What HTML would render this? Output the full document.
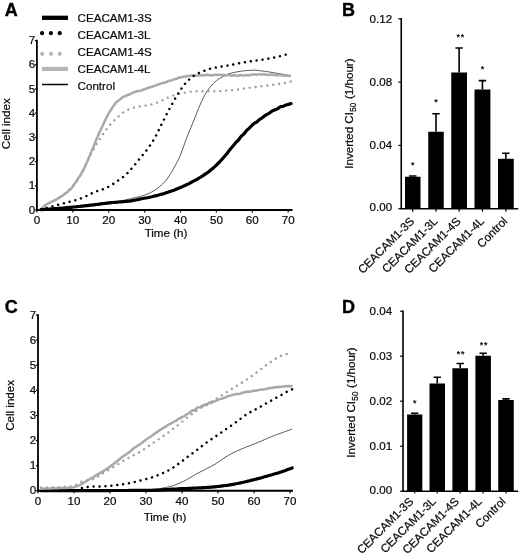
<!DOCTYPE html>
<html lang="en"><head><meta charset="utf-8"><title>Figure</title>
<style>html,body{margin:0;padding:0;background:#fff}svg{display:block}text{font-family:"Liberation Sans",Arial,Helvetica,sans-serif;fill:#0a0a0a;stroke:#0a0a0a;stroke-width:0.22px}.pl{font-size:18px;font-weight:bold;fill:#000;stroke:#000;stroke-width:0.35px}.st{fill:#000}</style>
</head><body>
<svg width="520" height="554" viewBox="0 0 520 554">
<rect width="520" height="554" fill="#fff"/>
<g stroke="#000" stroke-width="1.8" fill="none">
<path d="M36.9,39.7 V210 H292.5"/>
</g>
<g stroke="#000" stroke-width="1.2">
<line x1="34.80" y1="210.00" x2="36.90" y2="210.00"/>
<line x1="34.80" y1="185.80" x2="36.90" y2="185.80"/>
<line x1="34.80" y1="161.60" x2="36.90" y2="161.60"/>
<line x1="34.80" y1="137.40" x2="36.90" y2="137.40"/>
<line x1="34.80" y1="113.20" x2="36.90" y2="113.20"/>
<line x1="34.80" y1="89.00" x2="36.90" y2="89.00"/>
<line x1="34.80" y1="64.80" x2="36.90" y2="64.80"/>
<line x1="34.80" y1="40.60" x2="36.90" y2="40.60"/>
<line x1="36.90" y1="210.00" x2="36.90" y2="212.40"/>
<line x1="72.80" y1="210.00" x2="72.80" y2="212.40"/>
<line x1="108.70" y1="210.00" x2="108.70" y2="212.40"/>
<line x1="144.60" y1="210.00" x2="144.60" y2="212.40"/>
<line x1="180.50" y1="210.00" x2="180.50" y2="212.40"/>
<line x1="216.40" y1="210.00" x2="216.40" y2="212.40"/>
<line x1="252.30" y1="210.00" x2="252.30" y2="212.40"/>
<line x1="288.20" y1="210.00" x2="288.20" y2="212.40"/>
</g>
<g font-size="11.6" text-anchor="end">
<text x="35.10" y="213.60">0</text>
<text x="35.10" y="189.40">1</text>
<text x="35.10" y="165.20">2</text>
<text x="35.10" y="141.00">3</text>
<text x="35.10" y="116.80">4</text>
<text x="35.10" y="92.60">5</text>
<text x="35.10" y="68.40">6</text>
<text x="35.10" y="44.20">7</text>
</g>
<g font-size="11.6" text-anchor="middle">
<text x="36.90" y="223.70">0</text>
<text x="72.80" y="223.70">10</text>
<text x="108.70" y="223.70">20</text>
<text x="144.60" y="223.70">30</text>
<text x="180.50" y="223.70">40</text>
<text x="216.40" y="223.70">50</text>
<text x="252.30" y="223.70">60</text>
<text x="288.20" y="223.70">70</text>
<text x="166" y="237">Time (h)</text>
<text transform="translate(9.9,123.7) rotate(-90)">Cell index</text>
</g>
<text class="pl" x="4.7" y="15.9">A</text>
<path d="M41.0,209.7 L42.5,209.6 L44.0,209.5 L45.5,209.4 L47.0,209.3 L48.5,209.2 L50.0,209.1 L51.5,208.9 L53.0,208.8 L54.5,208.7 L56.0,208.6 L57.5,208.5 L59.0,208.3 L60.5,208.2 L62.0,208.1 L63.5,208.0 L65.0,207.8 L66.5,207.7 L68.0,207.6 L69.5,207.4 L71.0,207.3 L72.5,207.1 L74.0,207.0 L75.5,206.8 L77.0,206.7 L78.5,206.5 L80.0,206.4 L81.5,206.2 L83.0,206.1 L84.5,205.9 L86.0,205.7 L87.5,205.6 L89.0,205.4 L90.5,205.2 L92.0,205.1 L93.5,204.9 L95.0,204.7 L96.5,204.5 L98.0,204.3 L99.5,204.1 L101.0,203.9 L102.5,203.7 L104.0,203.5 L105.5,203.3 L107.0,203.1 L108.5,202.9 L110.0,202.7 L111.5,202.5 L113.0,202.2 L114.5,202.0 L116.0,201.8 L117.5,201.5 L119.0,201.2 L120.5,201.0 L122.0,200.7 L123.5,200.3 L125.0,200.0 L126.5,199.7 L128.0,199.4 L129.5,199.0 L131.0,198.7 L132.5,198.3 L134.0,197.9 L135.5,197.5 L137.0,197.2 L138.5,196.9 L140.0,196.6 L141.5,196.1 L143.0,195.7 L144.5,195.1 L146.0,194.6 L147.5,194.0 L149.0,193.4 L150.5,192.7 L152.0,191.9 L153.5,191.0 L155.0,190.0 L156.5,189.0 L158.0,187.9 L159.5,186.7 L161.0,185.5 L162.5,184.1 L164.0,182.6 L165.5,180.9 L167.0,179.1 L168.5,177.1 L170.0,174.8 L171.5,172.3 L173.0,169.7 L174.5,167.0 L176.0,164.2 L177.5,161.3 L179.0,158.2 L180.5,154.8 L182.0,150.9 L183.5,146.7 L185.0,142.4 L186.5,138.3 L188.0,134.5 L189.5,130.9 L191.0,127.3 L192.5,123.6 L194.0,120.0 L195.5,116.2 L197.0,112.3 L198.5,108.6 L200.0,105.0 L201.5,101.6 L203.0,98.4 L204.5,95.5 L206.0,93.0 L207.5,90.7 L209.0,88.6 L210.5,86.6 L212.0,84.9 L213.5,83.3 L215.0,81.9 L216.5,80.6 L218.0,79.5 L219.5,78.5 L221.0,77.6 L222.5,76.8 L224.0,76.0 L225.5,75.3 L227.0,74.6 L228.5,74.0 L230.0,73.6 L231.5,73.1 L233.0,72.7 L234.5,72.4 L236.0,72.1 L237.5,71.8 L239.0,71.5 L240.5,71.3 L242.0,71.1 L243.5,70.9 L245.0,70.7 L246.5,70.6 L248.0,70.5 L249.5,70.4 L251.0,70.3 L252.5,70.2 L254.0,70.2 L255.5,70.2 L257.0,70.3 L258.5,70.5 L260.0,70.7 L261.5,70.9 L263.0,71.1 L264.5,71.3 L266.0,71.5 L267.5,71.7 L269.0,72.0 L270.5,72.2 L272.0,72.4 L273.5,72.7 L275.0,73.0 L276.5,73.2 L278.0,73.5 L279.5,73.7 L281.0,74.0 L282.5,74.2 L284.0,74.5 L285.5,74.7 L287.0,75.0 L288.5,75.3 L290.0,75.5 L291.0,75.7" fill="none" stroke="#444" stroke-width="0.9"/>
<path d="M40.5,209.6 L42.0,208.3 L43.5,206.7 L45.0,205.3 L46.5,204.4 L48.0,203.6 L49.5,202.9 L51.0,202.2 L52.5,201.5 L54.0,200.7 L55.5,200.0 L57.0,199.2 L58.5,198.4 L60.0,197.5 L61.5,196.5 L63.0,195.5 L64.5,194.5 L66.0,193.3 L67.5,192.1 L69.0,190.8 L70.5,189.3 L72.0,187.6 L73.5,185.7 L75.0,183.6 L76.5,181.5 L78.0,179.3 L79.5,176.9 L81.0,174.4 L82.5,171.8 L84.0,169.0 L85.5,165.9 L87.0,162.5 L88.5,159.1 L90.0,156.0 L91.5,153.1 L93.0,150.4 L94.5,147.8 L96.0,145.2 L97.5,142.7 L99.0,140.2 L100.5,137.8 L102.0,135.5 L103.5,133.4 L105.0,131.3 L106.5,129.2 L108.0,127.3 L109.5,125.5 L111.0,123.8 L112.5,122.2 L114.0,120.7 L115.5,119.2 L117.0,117.9 L118.5,116.5 L120.0,115.1 L121.5,113.8 L123.0,112.6 L124.5,111.5 L126.0,110.6 L127.5,109.9 L129.0,109.1 L130.5,108.5 L132.0,108.0 L133.5,107.7 L135.0,107.3 L136.5,107.1 L138.0,106.8 L139.5,106.6 L141.0,106.3 L142.5,106.1 L144.0,105.9 L145.5,105.6 L147.0,105.4 L148.5,105.1 L150.0,104.8 L151.5,104.4 L153.0,104.0 L154.5,103.5 L156.0,103.0 L157.5,102.5 L159.0,101.9 L160.5,101.2 L162.0,100.5 L163.5,99.7 L165.0,99.0 L166.5,98.3 L168.0,97.6 L169.5,97.0 L171.0,96.4 L172.5,95.9 L174.0,95.3 L175.5,94.8 L177.0,94.4 L178.5,93.9 L180.0,93.5 L181.5,93.2 L183.0,92.9 L184.5,92.7 L186.0,92.5 L187.5,92.2 L189.0,92.0 L190.5,91.8 L192.0,91.7 L193.5,91.5 L195.0,91.4 L196.5,91.3 L198.0,91.3 L199.5,91.3 L201.0,91.3 L202.5,91.3 L204.0,91.3 L205.5,91.3 L207.0,91.3 L208.5,91.3 L210.0,91.3 L211.5,91.3 L213.0,91.3 L214.5,91.3 L216.0,91.3 L217.5,91.3 L219.0,91.2 L220.5,91.1 L222.0,91.0 L223.5,90.9 L225.0,90.8 L226.5,90.7 L228.0,90.6 L229.5,90.4 L231.0,90.3 L232.5,90.2 L234.0,90.0 L235.5,89.8 L237.0,89.6 L238.5,89.4 L240.0,89.1 L241.5,88.9 L243.0,88.6 L244.5,88.4 L246.0,88.2 L247.5,88.0 L249.0,87.8 L250.5,87.6 L252.0,87.4 L253.5,87.2 L255.0,87.1 L256.5,86.9 L258.0,86.7 L259.5,86.5 L261.0,86.3 L262.5,86.1 L264.0,85.9 L265.5,85.8 L267.0,85.6 L268.5,85.4 L270.0,85.2 L271.5,85.0 L273.0,84.8 L274.5,84.6 L276.0,84.4 L277.5,84.2 L279.0,84.0 L280.5,83.7 L282.0,83.4 L283.5,83.2 L285.0,82.9 L286.5,82.5 L288.0,82.2 L289.5,81.9 L291.0,81.5" fill="none" stroke="#a2a2a2" stroke-width="2.45" stroke-linecap="round" stroke-dasharray="0.01 5.92"/>
<path d="M40.5,209.6 L42.0,208.3 L43.5,206.7 L45.0,205.3 L46.5,204.3 L48.0,203.5 L49.5,202.8 L51.0,202.1 L52.5,201.3 L54.0,200.5 L55.5,199.8 L57.0,199.0 L58.5,198.2 L60.0,197.0 L61.5,196.2 L63.0,195.6 L64.5,194.0 L66.0,193.0 L67.5,192.1 L69.0,190.1 L70.5,189.1 L72.0,187.6 L73.5,185.1 L75.0,183.2 L76.5,181.3 L78.0,178.5 L79.5,176.4 L81.0,174.1 L82.5,171.4 L84.0,168.5 L85.5,165.2 L87.0,162.0 L88.5,158.4 L90.0,155.0 L91.5,151.3 L93.0,147.9 L94.5,144.2 L96.0,140.3 L97.5,137.0 L99.0,133.4 L100.5,130.3 L102.0,127.0 L103.5,124.0 L105.0,120.6 L106.5,117.5 L108.0,114.8 L109.5,112.0 L111.0,109.8 L112.5,107.0 L114.0,105.3 L115.5,103.2 L117.0,101.7 L118.5,100.6 L120.0,99.4 L121.5,98.3 L123.0,97.0 L124.5,96.2 L126.0,95.9 L127.5,95.0 L129.0,94.5 L130.5,94.0 L132.0,93.2 L133.5,92.2 L135.0,91.9 L136.5,91.6 L138.0,90.9 L139.5,90.9 L141.0,90.5 L142.5,90.0 L144.0,89.3 L145.5,89.1 L147.0,88.1 L148.5,87.7 L150.0,87.3 L151.5,87.0 L153.0,86.3 L154.5,85.6 L156.0,85.2 L157.5,84.7 L159.0,84.2 L160.5,83.6 L162.0,83.3 L163.5,82.8 L165.0,82.5 L166.5,82.0 L168.0,81.3 L169.5,80.8 L171.0,80.5 L172.5,80.1 L174.0,79.4 L175.5,79.0 L177.0,78.6 L178.5,77.6 L180.0,77.8 L181.5,77.0 L183.0,76.8 L184.5,76.7 L186.0,76.5 L187.5,75.9 L189.0,76.1 L190.5,75.6 L192.0,75.6 L193.5,75.9 L195.0,75.5 L196.5,75.5 L198.0,75.6 L199.5,75.6 L201.0,75.5 L202.5,74.9 L204.0,75.2 L205.5,75.2 L207.0,74.8 L208.5,75.1 L210.0,75.2 L211.5,75.3 L213.0,75.3 L214.5,74.8 L216.0,74.8 L217.5,75.1 L219.0,74.7 L220.5,74.8 L222.0,75.1 L223.5,74.9 L225.0,75.3 L226.5,75.4 L228.0,74.9 L229.5,75.3 L231.0,75.5 L232.5,75.7 L234.0,75.2 L235.5,75.2 L237.0,75.7 L238.5,75.7 L240.0,75.1 L241.5,75.3 L243.0,75.4 L244.5,75.4 L246.0,74.9 L247.5,75.2 L249.0,75.2 L250.5,74.9 L252.0,74.6 L253.5,74.4 L255.0,74.5 L256.5,74.9 L258.0,74.3 L259.5,74.3 L261.0,74.5 L262.5,74.3 L264.0,74.4 L265.5,74.3 L267.0,74.7 L268.5,74.9 L270.0,74.8 L271.5,74.6 L273.0,74.8 L274.5,75.0 L276.0,75.3 L277.5,75.4 L279.0,75.0 L280.5,74.9 L282.0,75.5 L283.5,75.6 L285.0,75.4 L286.5,75.7 L288.0,75.8 L289.5,75.7 L291.0,76.0" fill="none" stroke="#a9a9a9" stroke-width="2.5" stroke-linejoin="round"/>
<path d="M41.0,209.6 L42.5,209.2 L44.0,208.7 L45.5,208.3 L47.0,207.8 L48.5,207.4 L50.0,207.0 L51.5,206.6 L53.0,206.2 L54.5,205.7 L56.0,205.3 L57.5,204.9 L59.0,204.5 L60.5,204.1 L62.0,203.8 L63.5,203.4 L65.0,203.0 L66.5,202.6 L68.0,202.2 L69.5,201.8 L71.0,201.4 L72.5,201.0 L74.0,200.6 L75.5,200.2 L77.0,199.8 L78.5,199.3 L80.0,198.8 L81.5,198.2 L83.0,197.6 L84.5,196.9 L86.0,196.2 L87.5,195.5 L89.0,194.7 L90.5,194.0 L92.0,193.2 L93.5,192.5 L95.0,191.9 L96.5,191.3 L98.0,190.8 L99.5,190.3 L101.0,189.9 L102.5,189.4 L104.0,188.9 L105.5,188.3 L107.0,187.5 L108.5,186.8 L110.0,185.9 L111.5,185.0 L113.0,184.1 L114.5,183.0 L116.0,181.9 L117.5,180.9 L119.0,179.9 L120.5,178.9 L122.0,177.9 L123.5,176.7 L125.0,175.5 L126.5,174.1 L128.0,172.6 L129.5,170.9 L131.0,169.2 L132.5,167.5 L134.0,165.7 L135.5,163.9 L137.0,162.0 L138.5,160.1 L140.0,158.2 L141.5,156.4 L143.0,154.6 L144.5,152.8 L146.0,151.0 L147.5,149.0 L149.0,146.9 L150.5,144.7 L152.0,142.5 L153.5,140.0 L155.0,137.5 L156.5,134.7 L158.0,131.7 L159.5,128.5 L161.0,125.4 L162.5,122.5 L164.0,119.5 L165.5,116.5 L167.0,113.5 L168.5,110.6 L170.0,107.9 L171.5,105.2 L173.0,102.5 L174.5,99.7 L176.0,97.1 L177.5,94.6 L179.0,92.2 L180.5,89.9 L182.0,87.7 L183.5,85.6 L185.0,83.8 L186.5,82.2 L188.0,80.7 L189.5,79.2 L191.0,77.8 L192.5,76.6 L194.0,75.6 L195.5,74.7 L197.0,73.9 L198.5,73.2 L200.0,72.6 L201.5,71.9 L203.0,71.3 L204.5,70.7 L206.0,70.1 L207.5,69.5 L209.0,69.0 L210.5,68.6 L212.0,68.3 L213.5,68.0 L215.0,67.7 L216.5,67.4 L218.0,67.1 L219.5,66.9 L221.0,66.7 L222.5,66.4 L224.0,66.2 L225.5,65.9 L227.0,65.7 L228.5,65.4 L230.0,65.1 L231.5,64.8 L233.0,64.5 L234.5,64.2 L236.0,63.9 L237.5,63.6 L239.0,63.3 L240.5,63.0 L242.0,62.8 L243.5,62.5 L245.0,62.2 L246.5,62.0 L248.0,61.7 L249.5,61.5 L251.0,61.3 L252.5,61.0 L254.0,60.8 L255.5,60.6 L257.0,60.5 L258.5,60.3 L260.0,60.0 L261.5,59.8 L263.0,59.6 L264.5,59.3 L266.0,59.1 L267.5,58.8 L269.0,58.5 L270.5,58.3 L272.0,58.0 L273.5,57.7 L275.0,57.3 L276.5,57.0 L278.0,56.7 L279.5,56.3 L281.0,56.0 L282.5,55.6 L284.0,55.2 L285.5,54.7 L287.0,54.3 L288.5,53.8 L290.0,53.3 L291.0,53.0" fill="none" stroke="#000" stroke-width="2.5" stroke-linecap="round" stroke-dasharray="0.01 5.92"/>
<path d="M41.0,209.7 L42.5,209.6 L44.0,209.5 L45.5,209.4 L47.0,209.3 L48.5,209.2 L50.0,209.1 L51.5,208.9 L53.0,208.8 L54.5,208.7 L56.0,208.6 L57.5,208.5 L59.0,208.3 L60.5,208.2 L62.0,208.1 L63.5,208.0 L65.0,207.8 L66.5,207.7 L68.0,207.6 L69.5,207.4 L71.0,207.3 L72.5,207.1 L74.0,207.0 L75.5,206.8 L77.0,206.7 L78.5,206.5 L80.0,206.4 L81.5,206.2 L83.0,206.1 L84.5,205.9 L86.0,205.7 L87.5,205.6 L89.0,205.4 L90.5,205.2 L92.0,205.1 L93.5,204.9 L95.0,204.7 L96.5,204.5 L98.0,204.3 L99.5,204.1 L101.0,203.9 L102.5,203.7 L104.0,203.5 L105.5,203.3 L107.0,203.1 L108.5,202.9 L110.0,202.8 L111.5,202.6 L113.0,202.5 L114.5,202.4 L116.0,202.3 L117.5,202.1 L119.0,202.0 L120.5,201.9 L122.0,201.8 L123.5,201.6 L125.0,201.5 L126.5,201.4 L128.0,201.2 L129.5,201.1 L131.0,200.9 L132.5,200.6 L134.0,200.3 L135.5,200.0 L137.0,199.7 L138.5,199.4 L140.0,199.1 L141.5,198.8 L143.0,198.5 L144.5,198.2 L146.0,198.0 L147.5,197.7 L149.0,197.4 L150.5,197.0 L152.0,196.7 L153.5,196.3 L155.0,195.9 L156.5,195.6 L158.0,195.2 L159.5,194.8 L161.0,194.4 L162.5,194.0 L164.0,193.6 L165.5,193.1 L167.0,192.6 L168.5,192.1 L170.0,191.5 L171.5,191.0 L173.0,190.4 L174.5,189.9 L176.0,189.3 L177.5,188.7 L179.0,188.1 L180.5,187.4 L182.0,186.8 L183.5,186.1 L185.0,185.5 L186.5,184.8 L188.0,184.1 L189.5,183.3 L191.0,182.5 L192.5,181.7 L194.0,180.9 L195.5,180.1 L197.0,179.3 L198.5,178.4 L200.0,177.5 L201.5,176.6 L203.0,175.7 L204.5,174.7 L206.0,173.7 L207.5,172.7 L209.0,171.5 L210.5,170.3 L212.0,169.1 L213.5,167.8 L215.0,166.4 L216.5,165.0 L218.0,163.5 L219.5,162.0 L221.0,160.4 L222.5,158.7 L224.0,157.0 L225.5,155.2 L227.0,153.4 L228.5,151.5 L230.0,149.6 L231.5,147.8 L233.0,146.0 L234.5,144.3 L236.0,142.3 L237.5,141.1 L239.0,139.4 L240.5,137.2 L242.0,135.7 L243.5,134.3 L245.0,132.7 L246.5,130.5 L248.0,129.3 L249.5,127.9 L251.0,126.3 L252.5,124.8 L254.0,123.5 L255.5,122.6 L257.0,122.0 L258.5,120.3 L260.0,119.2 L261.5,118.4 L263.0,117.1 L264.5,116.0 L266.0,114.9 L267.5,114.2 L269.0,113.4 L270.5,112.2 L272.0,111.1 L273.5,110.4 L275.0,109.8 L276.5,109.3 L278.0,108.6 L279.5,107.3 L281.0,106.5 L282.5,106.5 L284.0,106.0 L285.5,105.1 L287.0,104.8 L288.5,104.4 L290.0,103.8 L291.0,103.7" fill="none" stroke="#000" stroke-width="3.2" stroke-linejoin="round" stroke-linecap="round"/>
<g stroke="#000" stroke-width="1.8" fill="none">
<path d="M38,314.2 V490.75 H293"/>
</g>
<g stroke="#000" stroke-width="1.2">
<line x1="35.90" y1="490.75" x2="38.00" y2="490.75"/>
<line x1="35.90" y1="465.65" x2="38.00" y2="465.65"/>
<line x1="35.90" y1="440.55" x2="38.00" y2="440.55"/>
<line x1="35.90" y1="415.45" x2="38.00" y2="415.45"/>
<line x1="35.90" y1="390.35" x2="38.00" y2="390.35"/>
<line x1="35.90" y1="365.25" x2="38.00" y2="365.25"/>
<line x1="35.90" y1="340.15" x2="38.00" y2="340.15"/>
<line x1="35.90" y1="315.05" x2="38.00" y2="315.05"/>
<line x1="38.00" y1="490.75" x2="38.00" y2="493.15"/>
<line x1="74.00" y1="490.75" x2="74.00" y2="493.15"/>
<line x1="110.00" y1="490.75" x2="110.00" y2="493.15"/>
<line x1="146.00" y1="490.75" x2="146.00" y2="493.15"/>
<line x1="182.00" y1="490.75" x2="182.00" y2="493.15"/>
<line x1="218.00" y1="490.75" x2="218.00" y2="493.15"/>
<line x1="254.00" y1="490.75" x2="254.00" y2="493.15"/>
<line x1="290.00" y1="490.75" x2="290.00" y2="493.15"/>
</g>
<g font-size="11.6" text-anchor="end">
<text x="36.20" y="494.35">0</text>
<text x="36.20" y="469.25">1</text>
<text x="36.20" y="444.15">2</text>
<text x="36.20" y="419.05">3</text>
<text x="36.20" y="393.95">4</text>
<text x="36.20" y="368.85">5</text>
<text x="36.20" y="343.75">6</text>
<text x="36.20" y="318.65">7</text>
</g>
<g font-size="11.6" text-anchor="middle">
<text x="38.00" y="505.40">0</text>
<text x="74.00" y="505.40">10</text>
<text x="110.00" y="505.40">20</text>
<text x="146.00" y="505.40">30</text>
<text x="182.00" y="505.40">40</text>
<text x="218.00" y="505.40">50</text>
<text x="254.00" y="505.40">60</text>
<text x="290.00" y="505.40">70</text>
<text x="165" y="520.5">Time (h)</text>
<text transform="translate(13.7,405.4) rotate(-90)">Cell index</text>
</g>
<text class="pl" x="4.75" y="313.3">C</text>
<path d="M41.0,490.6 L42.5,490.6 L44.0,490.6 L45.5,490.6 L47.0,490.6 L48.5,490.6 L50.0,490.6 L51.5,490.6 L53.0,490.6 L54.5,490.6 L56.0,490.6 L57.5,490.6 L59.0,490.6 L60.5,490.6 L62.0,490.6 L63.5,490.6 L65.0,490.6 L66.5,490.6 L68.0,490.6 L69.5,490.6 L71.0,490.6 L72.5,490.6 L74.0,490.6 L75.5,490.6 L77.0,490.6 L78.5,490.6 L80.0,490.6 L81.5,490.6 L83.0,490.6 L84.5,490.6 L86.0,490.6 L87.5,490.6 L89.0,490.6 L90.5,490.6 L92.0,490.6 L93.5,490.6 L95.0,490.6 L96.5,490.6 L98.0,490.6 L99.5,490.6 L101.0,490.6 L102.5,490.6 L104.0,490.6 L105.5,490.6 L107.0,490.6 L108.5,490.6 L110.0,490.6 L111.5,490.6 L113.0,490.6 L114.5,490.6 L116.0,490.6 L117.5,490.6 L119.0,490.6 L120.5,490.6 L122.0,490.6 L123.5,490.6 L125.0,490.6 L126.5,490.6 L128.0,490.6 L129.5,490.6 L131.0,490.6 L132.5,490.6 L134.0,490.6 L135.5,490.6 L137.0,490.6 L138.5,490.5 L140.0,490.5 L141.5,490.5 L143.0,490.5 L144.5,490.4 L146.0,490.4 L147.5,490.4 L149.0,490.3 L150.5,490.3 L152.0,490.1 L153.5,489.9 L155.0,489.6 L156.5,489.3 L158.0,488.9 L159.5,488.6 L161.0,488.4 L162.5,488.1 L164.0,487.8 L165.5,487.5 L167.0,487.2 L168.5,486.9 L170.0,486.5 L171.5,486.2 L173.0,485.7 L174.5,485.2 L176.0,484.6 L177.5,484.0 L179.0,483.4 L180.5,482.7 L182.0,482.0 L183.5,481.3 L185.0,480.5 L186.5,479.7 L188.0,478.9 L189.5,478.0 L191.0,477.1 L192.5,476.2 L194.0,475.3 L195.5,474.5 L197.0,473.6 L198.5,472.8 L200.0,472.0 L201.5,471.3 L203.0,470.5 L204.5,469.8 L206.0,469.0 L207.5,468.2 L209.0,467.5 L210.5,466.7 L212.0,465.9 L213.5,465.0 L215.0,464.2 L216.5,463.2 L218.0,462.2 L219.5,461.2 L221.0,460.2 L222.5,459.2 L224.0,458.2 L225.5,457.2 L227.0,456.2 L228.5,455.3 L230.0,454.4 L231.5,453.6 L233.0,452.8 L234.5,452.1 L236.0,451.4 L237.5,450.7 L239.0,450.1 L240.5,449.4 L242.0,448.8 L243.5,448.2 L245.0,447.5 L246.5,446.9 L248.0,446.3 L249.5,445.8 L251.0,445.2 L252.5,444.6 L254.0,444.0 L255.5,443.4 L257.0,442.8 L258.5,442.2 L260.0,441.6 L261.5,441.0 L263.0,440.3 L264.5,439.6 L266.0,439.0 L267.5,438.3 L269.0,437.7 L270.5,437.1 L272.0,436.4 L273.5,435.8 L275.0,435.2 L276.5,434.7 L278.0,434.1 L279.5,433.6 L281.0,433.1 L282.5,432.6 L284.0,432.0 L285.5,431.5 L287.0,430.9 L288.5,430.4 L290.0,429.8 L291.5,429.3 L292.2,429.0" fill="none" stroke="#444" stroke-width="0.9"/>
<path d="M41.0,490.7 L42.5,490.7 L44.0,490.7 L45.5,490.7 L47.0,490.7 L48.5,490.7 L50.0,490.7 L51.5,490.7 L53.0,490.7 L54.5,490.7 L56.0,490.7 L57.5,490.7 L59.0,490.7 L60.5,490.7 L62.0,490.7 L63.5,490.7 L65.0,490.7 L66.5,490.7 L68.0,490.7 L69.5,490.7 L71.0,490.7 L72.5,490.7 L74.0,490.7 L75.5,490.7 L77.0,490.7 L78.5,490.7 L80.0,490.7 L81.5,490.7 L83.0,490.6 L84.5,490.6 L86.0,490.6 L87.5,490.6 L89.0,490.6 L90.5,490.6 L92.0,490.6 L93.5,490.6 L95.0,490.6 L96.5,490.6 L98.0,490.6 L99.5,490.6 L101.0,490.6 L102.5,490.6 L104.0,490.6 L105.5,490.6 L107.0,490.6 L108.5,490.6 L110.0,490.6 L111.5,490.5 L113.0,490.5 L114.5,490.5 L116.0,490.5 L117.5,490.5 L119.0,490.5 L120.5,490.5 L122.0,490.5 L123.5,490.5 L125.0,490.5 L126.5,490.5 L128.0,490.5 L129.5,490.4 L131.0,490.4 L132.5,490.4 L134.0,490.4 L135.5,490.4 L137.0,490.4 L138.5,490.4 L140.0,490.4 L141.5,490.4 L143.0,490.4 L144.5,490.3 L146.0,490.3 L147.5,490.3 L149.0,490.3 L150.5,490.3 L152.0,490.3 L153.5,490.2 L155.0,490.2 L156.5,490.1 L158.0,490.1 L159.5,490.0 L161.0,489.9 L162.5,489.8 L164.0,489.7 L165.5,489.6 L167.0,489.5 L168.5,489.4 L170.0,489.3 L171.5,489.2 L173.0,489.1 L174.5,489.0 L176.0,489.0 L177.5,488.9 L179.0,488.8 L180.5,488.7 L182.0,488.7 L183.5,488.6 L185.0,488.6 L186.5,488.5 L188.0,488.4 L189.5,488.4 L191.0,488.3 L192.5,488.2 L194.0,488.2 L195.5,488.1 L197.0,488.0 L198.5,487.9 L200.0,487.9 L201.5,487.8 L203.0,487.7 L204.5,487.6 L206.0,487.5 L207.5,487.4 L209.0,487.3 L210.5,487.2 L212.0,487.1 L213.5,486.9 L215.0,486.8 L216.5,486.6 L218.0,486.5 L219.5,486.3 L221.0,486.1 L222.5,485.9 L224.0,485.7 L225.5,485.5 L227.0,485.3 L228.5,485.1 L230.0,484.8 L231.5,484.6 L233.0,484.4 L234.5,484.1 L236.0,483.8 L237.5,483.5 L239.0,483.2 L240.5,482.9 L242.0,482.5 L243.5,482.2 L245.0,481.8 L246.5,481.5 L248.0,481.1 L249.5,480.8 L251.0,480.4 L252.5,480.0 L254.0,479.6 L255.5,479.3 L257.0,478.9 L258.5,478.5 L260.0,478.1 L261.5,477.7 L263.0,477.2 L264.5,476.8 L266.0,476.4 L267.5,476.0 L269.0,475.5 L270.5,475.1 L272.0,474.7 L273.5,474.2 L275.0,473.8 L276.5,473.4 L278.0,472.9 L279.5,472.4 L281.0,471.9 L282.5,471.4 L284.0,470.9 L285.5,470.4 L287.0,469.8 L288.5,469.3 L290.0,468.8 L291.5,468.2 L292.2,468.0" fill="none" stroke="#000" stroke-width="3.2" stroke-linejoin="round" stroke-linecap="round"/>
<path d="M41.0,490.4 L42.5,490.4 L44.0,490.4 L45.5,490.4 L47.0,490.4 L48.5,490.4 L50.0,490.4 L51.5,490.4 L53.0,490.4 L54.5,490.4 L56.0,490.4 L57.5,490.4 L59.0,490.4 L60.5,490.4 L62.0,490.4 L63.5,490.4 L65.0,490.4 L66.5,490.4 L68.0,490.4 L69.5,490.4 L71.0,490.4 L72.5,490.4 L74.0,490.4 L75.5,490.4 L77.0,490.4 L78.5,490.0 L80.0,489.1 L81.5,488.2 L83.0,487.7 L84.5,487.2 L86.0,487.0 L87.5,486.9 L89.0,486.8 L90.5,486.7 L92.0,486.7 L93.5,486.6 L95.0,486.6 L96.5,486.5 L98.0,486.5 L99.5,486.5 L101.0,486.4 L102.5,486.4 L104.0,486.3 L105.5,486.2 L107.0,486.1 L108.5,486.0 L110.0,485.9 L111.5,485.7 L113.0,485.5 L114.5,485.4 L116.0,485.2 L117.5,485.0 L119.0,484.8 L120.5,484.6 L122.0,484.4 L123.5,484.1 L125.0,483.9 L126.5,483.6 L128.0,483.4 L129.5,483.1 L131.0,482.8 L132.5,482.5 L134.0,482.1 L135.5,481.8 L137.0,481.4 L138.5,481.0 L140.0,480.6 L141.5,480.3 L143.0,479.9 L144.5,479.5 L146.0,479.1 L147.5,478.7 L149.0,478.3 L150.5,477.9 L152.0,477.4 L153.5,476.9 L155.0,476.4 L156.5,475.8 L158.0,475.2 L159.5,474.6 L161.0,474.0 L162.5,473.3 L164.0,472.6 L165.5,471.9 L167.0,471.2 L168.5,470.4 L170.0,469.6 L171.5,468.7 L173.0,467.7 L174.5,466.7 L176.0,465.6 L177.5,464.5 L179.0,463.3 L180.5,462.2 L182.0,461.1 L183.5,460.0 L185.0,458.8 L186.5,457.7 L188.0,456.6 L189.5,455.5 L191.0,454.4 L192.5,453.3 L194.0,452.2 L195.5,451.1 L197.0,449.9 L198.5,448.8 L200.0,447.6 L201.5,446.4 L203.0,445.2 L204.5,444.1 L206.0,443.0 L207.5,441.9 L209.0,440.8 L210.5,439.8 L212.0,438.8 L213.5,437.7 L215.0,436.7 L216.5,435.8 L218.0,434.8 L219.5,433.7 L221.0,432.7 L222.5,431.7 L224.0,430.6 L225.5,429.5 L227.0,428.5 L228.5,427.4 L230.0,426.4 L231.5,425.4 L233.0,424.4 L234.5,423.3 L236.0,422.2 L237.5,421.1 L239.0,419.9 L240.5,418.8 L242.0,417.7 L243.5,416.5 L245.0,415.4 L246.5,414.4 L248.0,413.4 L249.5,412.6 L251.0,411.8 L252.5,410.9 L254.0,410.2 L255.5,409.4 L257.0,408.6 L258.5,407.8 L260.0,407.0 L261.5,406.1 L263.0,405.3 L264.5,404.3 L266.0,403.5 L267.5,402.6 L269.0,401.7 L270.5,400.9 L272.0,400.1 L273.5,399.2 L275.0,398.4 L276.5,397.6 L278.0,396.8 L279.5,396.0 L281.0,395.1 L282.5,394.3 L284.0,393.4 L285.5,392.5 L287.0,391.7 L288.5,390.9 L290.0,390.2 L291.5,389.5 L292.2,389.3" fill="none" stroke="#000" stroke-width="2.5" stroke-linecap="round" stroke-dasharray="0.01 5.92"/>
<path d="M40.0,488.8 L41.5,488.7 L43.0,488.7 L44.5,488.6 L46.0,488.6 L47.5,488.5 L49.0,488.5 L50.5,488.4 L52.0,488.4 L53.5,488.3 L55.0,488.2 L56.5,488.2 L58.0,488.2 L59.5,488.1 L61.0,488.1 L62.5,488.0 L64.0,488.0 L65.5,487.9 L67.0,487.9 L68.5,487.8 L70.0,487.7 L71.5,487.6 L73.0,487.4 L74.5,487.1 L76.0,486.6 L77.5,486.0 L79.0,485.3 L80.5,484.7 L82.0,483.9 L83.5,482.9 L85.0,481.9 L86.5,481.1 L88.0,480.1 L89.5,479.3 L91.0,478.3 L92.5,477.7 L94.0,476.8 L95.5,475.6 L97.0,474.9 L98.5,473.9 L100.0,473.1 L101.5,472.1 L103.0,471.4 L104.5,470.2 L106.0,469.3 L107.5,468.4 L109.0,467.2 L110.5,466.4 L112.0,464.9 L113.5,464.1 L115.0,462.7 L116.5,461.6 L118.0,460.5 L119.5,459.3 L121.0,458.1 L122.5,456.7 L124.0,455.7 L125.5,454.9 L127.0,453.6 L128.5,452.6 L130.0,451.6 L131.5,450.3 L133.0,448.8 L134.5,447.8 L136.0,446.9 L137.5,445.6 L139.0,445.0 L140.5,443.9 L142.0,442.8 L143.5,441.5 L145.0,440.6 L146.5,439.2 L148.0,438.2 L149.5,437.3 L151.0,436.4 L152.5,435.3 L154.0,434.0 L155.5,433.1 L157.0,432.1 L158.5,431.0 L160.0,430.0 L161.5,429.1 L163.0,428.1 L164.5,427.4 L166.0,426.4 L167.5,425.3 L169.0,424.4 L170.5,423.7 L172.0,422.9 L173.5,422.0 L175.0,421.2 L176.5,420.5 L178.0,419.1 L179.5,418.8 L181.0,417.6 L182.5,416.9 L184.0,416.3 L185.5,415.3 L187.0,414.1 L188.5,413.6 L190.0,412.2 L191.5,410.8 L193.0,410.2 L194.5,410.6 L196.0,408.8 L197.5,407.6 L199.0,407.1 L200.5,407.5 L202.0,405.5 L203.5,406.0 L205.0,404.2 L206.5,405.1 L208.0,403.7 L209.5,402.3 L211.0,403.3 L212.5,401.7 L214.0,401.8 L215.5,401.0 L217.0,400.3 L218.5,399.7 L220.0,399.1 L221.5,398.6 L223.0,398.4 L224.5,397.7 L226.0,397.3 L227.5,396.3 L229.0,396.1 L230.5,395.6 L232.0,395.0 L233.5,394.8 L235.0,394.3 L236.5,394.0 L238.0,394.1 L239.5,393.7 L241.0,393.4 L242.5,392.7 L244.0,392.4 L245.5,392.1 L247.0,391.8 L248.5,391.6 L250.0,391.8 L251.5,391.5 L253.0,390.8 L254.5,390.6 L256.0,390.8 L257.5,390.3 L259.0,390.0 L260.5,389.8 L262.0,389.4 L263.5,389.4 L265.0,389.2 L266.5,388.8 L268.0,388.7 L269.5,388.0 L271.0,388.1 L272.5,388.0 L274.0,387.3 L275.5,387.3 L277.0,387.2 L278.5,386.8 L280.0,387.1 L281.5,386.7 L283.0,386.6 L284.5,386.6 L286.0,386.0 L287.5,386.4 L289.0,386.0 L290.5,386.5 L292.0,386.0 L292.2,386.2" fill="none" stroke="#a9a9a9" stroke-width="2.5" stroke-linejoin="round"/>
<path d="M41.0,487.5 L42.5,487.5 L44.0,487.5 L45.5,487.5 L47.0,487.5 L48.5,487.4 L50.0,487.4 L51.5,487.4 L53.0,487.3 L54.5,487.3 L56.0,487.2 L57.5,487.2 L59.0,487.1 L60.5,487.1 L62.0,487.0 L63.5,486.9 L65.0,486.8 L66.5,486.7 L68.0,486.6 L69.5,486.5 L71.0,486.4 L72.5,486.2 L74.0,485.9 L75.5,485.2 L77.0,484.3 L78.5,483.3 L80.0,482.4 L81.5,481.6 L83.0,481.1 L84.5,480.8 L86.0,480.5 L87.5,480.3 L89.0,480.0 L90.5,479.7 L92.0,479.4 L93.5,478.9 L95.0,478.3 L96.5,477.5 L98.0,476.6 L99.5,475.6 L101.0,474.6 L102.5,473.6 L104.0,472.6 L105.5,471.7 L107.0,470.8 L108.5,469.9 L110.0,469.1 L111.5,468.2 L113.0,467.3 L114.5,466.4 L116.0,465.4 L117.5,464.5 L119.0,463.5 L120.5,462.6 L122.0,461.7 L123.5,460.7 L125.0,459.9 L126.5,459.0 L128.0,458.1 L129.5,457.3 L131.0,456.5 L132.5,455.7 L134.0,454.9 L135.5,454.2 L137.0,453.4 L138.5,452.6 L140.0,451.8 L141.5,450.9 L143.0,449.9 L144.5,448.9 L146.0,447.9 L147.5,446.8 L149.0,445.8 L150.5,444.8 L152.0,443.7 L153.5,442.7 L155.0,441.7 L156.5,440.7 L158.0,439.6 L159.5,438.6 L161.0,437.6 L162.5,436.6 L164.0,435.6 L165.5,434.5 L167.0,433.4 L168.5,432.3 L170.0,431.2 L171.5,430.0 L173.0,428.9 L174.5,427.7 L176.0,426.5 L177.5,425.4 L179.0,424.2 L180.5,423.0 L182.0,421.8 L183.5,420.6 L185.0,419.4 L186.5,418.2 L188.0,417.1 L189.5,415.9 L191.0,414.7 L192.5,413.6 L194.0,412.4 L195.5,411.4 L197.0,410.3 L198.5,409.3 L200.0,408.3 L201.5,407.5 L203.0,406.6 L204.5,405.7 L206.0,404.8 L207.5,404.0 L209.0,403.1 L210.5,402.2 L212.0,401.4 L213.5,400.5 L215.0,399.6 L216.5,398.7 L218.0,397.8 L219.5,396.8 L221.0,395.9 L222.5,394.9 L224.0,394.0 L225.5,393.0 L227.0,392.0 L228.5,391.1 L230.0,390.1 L231.5,389.1 L233.0,388.2 L234.5,387.3 L236.0,386.3 L237.5,385.4 L239.0,384.5 L240.5,383.5 L242.0,382.6 L243.5,381.6 L245.0,380.7 L246.5,379.7 L248.0,378.7 L249.5,377.6 L251.0,376.5 L252.5,375.4 L254.0,374.3 L255.5,373.2 L257.0,372.0 L258.5,370.9 L260.0,369.7 L261.5,368.6 L263.0,367.5 L264.5,366.4 L266.0,365.2 L267.5,364.2 L269.0,363.1 L270.5,362.1 L272.0,361.1 L273.5,360.1 L275.0,359.1 L276.5,358.2 L278.0,357.4 L279.5,356.7 L281.0,356.0 L282.5,355.4 L284.0,354.9 L285.5,354.4 L287.0,354.0 L288.5,353.6 L289.6,353.4" fill="none" stroke="#a2a2a2" stroke-width="2.45" stroke-linecap="round" stroke-dasharray="0.01 5.92"/>
<g fill="none">
<line x1="42" y1="17.8" x2="68" y2="17.8" stroke="#000" stroke-width="4.3"/>
<line x1="42.1" y1="33.2" x2="62" y2="33.2" stroke="#000" stroke-width="4.3" stroke-linecap="round" stroke-dasharray="0.01 8.8"/>
<line x1="42.2" y1="53.8" x2="62" y2="53.8" stroke="#b6b6b6" stroke-width="4.2" stroke-linecap="round" stroke-dasharray="0.01 8.8"/>
<line x1="42" y1="68.9" x2="67.9" y2="68.9" stroke="#b6b6b6" stroke-width="4.2"/>
<line x1="42" y1="84.5" x2="67.9" y2="84.5" stroke="#000" stroke-width="1.5"/>
</g>
<g font-size="11.6">
<text x="77.6" y="22.20">CEACAM1-3S</text>
<text x="77.6" y="39.15">CEACAM1-3L</text>
<text x="77.6" y="56.10">CEACAM1-4S</text>
<text x="77.6" y="73.05">CEACAM1-4L</text>
<text x="77.6" y="90.00">Control</text>
</g>
<rect x="405" y="176.75" width="15.50" height="32.00" fill="#000"/>
<path d="M412.75,176.75 V176.0 M409.05,176.0 H416.45" stroke="#000" stroke-width="1.6" fill="none"/>
<text x="412.75" y="167.5" class="st" font-size="9" text-anchor="middle">*</text>
<rect x="428.25" y="131.75" width="15.50" height="77.00" fill="#000"/>
<path d="M436.00,131.75 V113.75 M432.30,113.75 H439.70" stroke="#000" stroke-width="1.6" fill="none"/>
<text x="436.00" y="104.5" class="st" font-size="9" text-anchor="middle">*</text>
<rect x="451.25" y="72.5" width="15.75" height="136.25" fill="#000"/>
<path d="M459.12,72.5 V48 M455.43,48 H462.82" stroke="#000" stroke-width="1.6" fill="none"/>
<text x="460.82" y="40.4" class="st" font-size="9" text-anchor="middle" letter-spacing="0.8">**</text>
<rect x="474.5" y="89.5" width="15.90" height="119.25" fill="#000"/>
<path d="M482.45,89.5 V80.6 M478.75,80.6 H486.15" stroke="#000" stroke-width="1.6" fill="none"/>
<text x="482.45" y="72.2" class="st" font-size="9" text-anchor="middle">*</text>
<rect x="498" y="158.75" width="15.75" height="50.00" fill="#000"/>
<path d="M505.88,158.75 V153.25 M502.18,153.25 H509.57" stroke="#000" stroke-width="1.6" fill="none"/>
<path d="M401.25,18.0 V208.75 H518.2" stroke="#000" stroke-width="1.6" fill="none"/>
<g stroke="#000" stroke-width="1.2">
<line x1="398.35" y1="18.80" x2="401.25" y2="18.80"/>
<line x1="398.35" y1="82.12" x2="401.25" y2="82.12"/>
<line x1="398.35" y1="145.43" x2="401.25" y2="145.43"/>
<line x1="398.35" y1="208.75" x2="401.25" y2="208.75"/>
<line x1="412.75" y1="208.75" x2="412.75" y2="211.75"/>
<line x1="436.00" y1="208.75" x2="436.00" y2="211.75"/>
<line x1="459.12" y1="208.75" x2="459.12" y2="211.75"/>
<line x1="482.45" y1="208.75" x2="482.45" y2="211.75"/>
<line x1="505.88" y1="208.75" x2="505.88" y2="211.75"/>
</g>
<g font-size="11.6" text-anchor="end">
<text x="392.1" y="22.70">0.12</text>
<text x="392.1" y="86.02">0.08</text>
<text x="392.1" y="149.33">0.04</text>
<text x="392.1" y="211.45">0.00</text>
<text transform="translate(415.05,221.95) rotate(-45)">CEACAM1-3S</text>
<text transform="translate(438.30,221.95) rotate(-45)">CEACAM1-3L</text>
<text transform="translate(461.43,221.95) rotate(-45)">CEACAM1-4S</text>
<text transform="translate(484.75,221.95) rotate(-45)">CEACAM1-4L</text>
<text transform="translate(508.18,221.95) rotate(-45)">Control</text>
</g>
<text transform="translate(353.1,113.6) rotate(-90)" font-size="11.6" text-anchor="middle">Inverted CI<tspan font-size="8.2" dy="3" dx="0.3">50</tspan><tspan dy="-3" dx="0.4"> (1/hour)</tspan></text>
<text class="pl" x="341.9" y="15.9">B</text>
<rect x="407.1" y="414.5" width="15.20" height="76.70" fill="#000"/>
<path d="M414.70,414.5 V413.2 M411.00,413.2 H418.40" stroke="#000" stroke-width="1.6" fill="none"/>
<text x="414.70" y="405.7" class="st" font-size="9" text-anchor="middle">*</text>
<rect x="429.5" y="383.5" width="15.50" height="107.70" fill="#000"/>
<path d="M437.25,383.5 V377.25 M433.55,377.25 H440.95" stroke="#000" stroke-width="1.6" fill="none"/>
<rect x="452.4" y="368.25" width="15.60" height="122.95" fill="#000"/>
<path d="M460.20,368.25 V363.5 M456.50,363.5 H463.90" stroke="#000" stroke-width="1.6" fill="none"/>
<text x="461.00" y="357.1" class="st" font-size="9" text-anchor="middle" letter-spacing="0.8">**</text>
<rect x="475.4" y="355.75" width="15.50" height="135.45" fill="#000"/>
<path d="M483.15,355.75 V353.3 M479.45,353.3 H486.85" stroke="#000" stroke-width="1.6" fill="none"/>
<text x="483.95" y="348.3" class="st" font-size="9" text-anchor="middle" letter-spacing="0.8">**</text>
<rect x="498.25" y="400" width="15.50" height="91.20" fill="#000"/>
<path d="M506.00,400 V398.9 M502.30,398.9 H509.70" stroke="#000" stroke-width="1.6" fill="none"/>
<path d="M403.0,310.4 V491.2 H518.2" stroke="#000" stroke-width="1.6" fill="none"/>
<g stroke="#000" stroke-width="1.2">
<line x1="400.10" y1="311.20" x2="403.00" y2="311.20"/>
<line x1="400.10" y1="356.20" x2="403.00" y2="356.20"/>
<line x1="400.10" y1="401.20" x2="403.00" y2="401.20"/>
<line x1="400.10" y1="446.20" x2="403.00" y2="446.20"/>
<line x1="400.10" y1="491.20" x2="403.00" y2="491.20"/>
<line x1="414.70" y1="491.20" x2="414.70" y2="493.60"/>
<line x1="437.25" y1="491.20" x2="437.25" y2="493.60"/>
<line x1="460.20" y1="491.20" x2="460.20" y2="493.60"/>
<line x1="483.15" y1="491.20" x2="483.15" y2="493.60"/>
<line x1="506.00" y1="491.20" x2="506.00" y2="493.60"/>
</g>
<g font-size="11.6" text-anchor="end">
<text x="392.1" y="315.10">0.04</text>
<text x="392.1" y="360.10">0.03</text>
<text x="392.1" y="405.10">0.02</text>
<text x="392.1" y="450.10">0.01</text>
<text x="392.1" y="493.90">0.00</text>
<text transform="translate(414.10,502.20) rotate(-45)">CEACAM1-3S</text>
<text transform="translate(436.65,502.20) rotate(-45)">CEACAM1-3L</text>
<text transform="translate(459.60,502.20) rotate(-45)">CEACAM1-4S</text>
<text transform="translate(482.55,502.20) rotate(-45)">CEACAM1-4L</text>
<text transform="translate(506.40,502.20) rotate(-45)">Control</text>
</g>
<text transform="translate(354.6,402.5) rotate(-90)" font-size="11.6" text-anchor="middle">Inverted CI<tspan font-size="8.2" dy="3" dx="0.3">50</tspan><tspan dy="-3" dx="0.4"> (1/hour)</tspan></text>
<text class="pl" x="341.9" y="312.9">D</text>
</svg>
</body></html>
